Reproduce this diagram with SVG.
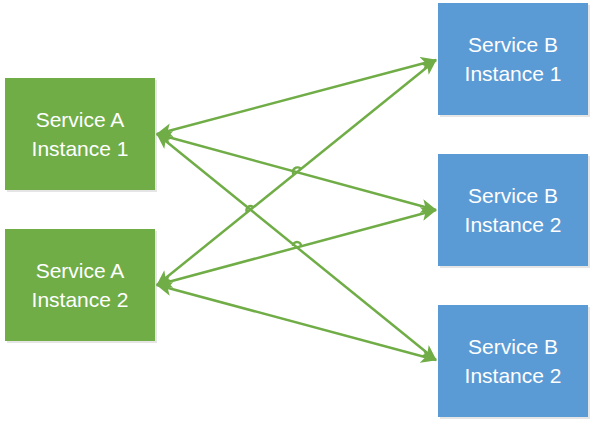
<svg xmlns="http://www.w3.org/2000/svg" width="595" height="425" viewBox="0 0 595 425">
<style>
.a{fill:#70AD47}
.b{fill:#5B9BD5}
.sh{fill:#000;opacity:0.1}
.t{font-family:"Liberation Sans",Arial,sans-serif;font-size:21px;fill:#fff;text-anchor:middle}
.c{stroke:#70AD47;stroke-width:2.5;fill:none}
.l{marker-start:url(#ah);marker-end:url(#ah)}
</style>
<defs>
<marker id="ah" markerUnits="userSpaceOnUse" viewBox="0 0 16 14" markerWidth="16" markerHeight="14" refX="15" refY="7" orient="auto-start-reverse">
<path d="M0,0 L16,7 L0,14 L4,7 Z" fill="#70AD47"/>
</marker>
</defs>
<rect width="595" height="425" fill="#fff"/>
<g id="connectors">
<path class="c l" d="M157,134 L436,60"/>
<path class="c l" d="M157,134 L436,210"/>
<path class="c l" d="M157,134 L436,360"/>
<path class="c l" d="M157,285 L436,60"/>
<path class="c l" d="M157,285 L436,210"/>
<path class="c l" d="M157,285 L436,360"/>
<path class="c" d="M294,175 A4,4 0 0 1 301,169"/>
<path class="c" d="M247,212 A4,4 0 0 1 253,207"/>
<path class="c" d="M293,246 A4,4 0 0 1 301,246"/>
</g>
<g id="a1">
<rect class="sh" x="7" y="80" width="150" height="112"/>
<rect class="a" x="5" y="78" width="150" height="112"/>
<text class="t" x="80" y="127">Service A</text>
<text class="t" x="80" y="156">Instance 1</text>
</g>
<g id="a2">
<rect class="sh" x="7" y="231" width="150" height="112"/>
<rect class="a" x="5" y="229" width="150" height="112"/>
<text class="t" x="80" y="278">Service A</text>
<text class="t" x="80" y="307">Instance 2</text>
</g>
<g id="b1">
<rect class="sh" x="440" y="5" width="150" height="112"/>
<rect class="b" x="438" y="3" width="150" height="112"/>
<text class="t" x="513" y="52">Service B</text>
<text class="t" x="513" y="81">Instance 1</text>
</g>
<g id="b2">
<rect class="sh" x="440" y="156" width="150" height="112"/>
<rect class="b" x="438" y="154" width="150" height="112"/>
<text class="t" x="513" y="203">Service B</text>
<text class="t" x="513" y="232">Instance 2</text>
</g>
<g id="b3">
<rect class="sh" x="440" y="307" width="150" height="112"/>
<rect class="b" x="438" y="305" width="150" height="112"/>
<text class="t" x="513" y="354">Service B</text>
<text class="t" x="513" y="383">Instance 2</text>
</g>
</svg>
